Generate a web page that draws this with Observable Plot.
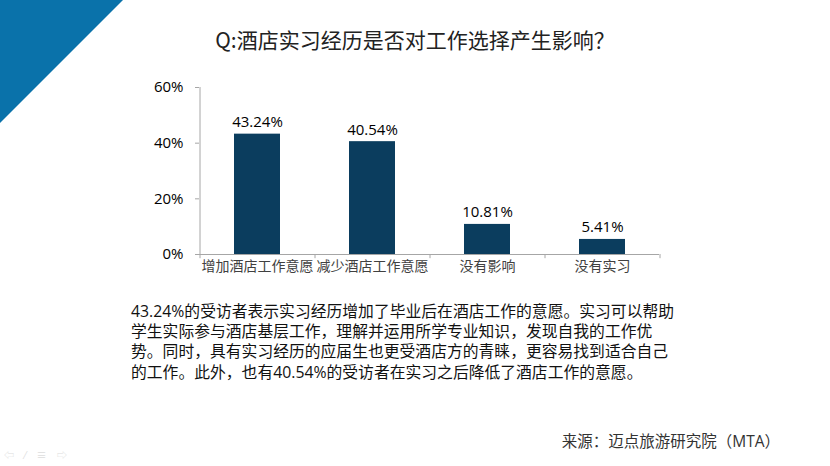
<!DOCTYPE html>
<html>
<head>
<meta charset="utf-8">
<script src="https://cdn.jsdelivr.net/npm/d3@7"></script>
<script src="https://cdn.jsdelivr.net/npm/@observablehq/plot@0.6"></script>
<style>
  html, body { margin: 0; padding: 0; background: #fff; }
  body { width: 830px; height: 466px; position: relative; overflow: hidden;
         font-family: "Open Sans", "Noto Sans CJK SC", sans-serif; }
  #tri { position: absolute; left: 0; top: 0; width: 123px; height: 123px;
         background: #0a72aa; clip-path: polygon(0 0, 100% 0, 0 100%); }
  #title { position: absolute; left: 0; width: 830px; top: 24px; text-align: center;
           font-size: 21px; color: #222; font-family: "Noto Sans CJK SC", sans-serif; }
  #chart { position: absolute; left: 0; top: 70px; }
  #para { position: absolute; left: 131px; top: 301px; font-size: 15.8px; line-height: 20.2px; color: #111; white-space: nowrap; }
  #src { position: absolute; right: 50px; top: 429px; font-size: 15.5px; color: #333; }
  #nav { position: absolute; left: 4px; top: 447px; font-size: 10px; color: #ddd; letter-spacing: 4px; }
</style>
</head>
<body>
<div id="tri"></div>
<div id="title"></div>
<div id="chart"></div>
<div id="para"></div>
<div id="src"></div>
<div id="nav">⇦ ⁄ ≡ ⇨</div>
<script>
const categories = ["增加酒店工作意愿", "减少酒店工作意愿", "没有影响", "没有实习"];
const values = [43.24, 40.54, 10.81, 5.41];
const yTicks = [0, 20, 40, 60];
const titleText = "Q:酒店实习经历是否对工作选择产生影响？";
const paragraphLines = [
  "43.24%的受访者表示实习经历增加了毕业后在酒店工作的意愿。实习可以帮助",
  "学生实际参与酒店基层工作，理解并运用所学专业知识，发现自我的工作优",
  "势。同时，具有实习经历的应届生也更受酒店方的青睐，更容易找到适合自己",
  "的工作。此外，也有40.54%的受访者在实习之后降低了酒店工作的意愿。"
];
const sourceText = "来源：迈点旅游研究院（MTA）";

document.getElementById("title").textContent = titleText;
document.getElementById("para").innerHTML = paragraphLines.join("<br>");
document.getElementById("src").textContent = sourceText;

const data = categories.map((c, i) => ({category: c, value: values[i]}));
const W = 830, ML = 199, MR = 171;
const bw = (W - ML - MR) / categories.length;
const axisColor = "#a6a6a6";

const chart = Plot.plot({
  width: W,
  height: 230,
  marginLeft: ML,
  marginRight: MR,
  marginTop: 17,
  marginBottom: 46,
  style: {fontFamily: '"Open Sans", "Noto Sans CJK SC", sans-serif', fontSize: "14px", color: "#000", background: "transparent"},
  x: {domain: categories, paddingInner: 0.6, paddingOuter: 0.3, label: null},
  y: {domain: [0, 60], label: null},
  marks: [
    Plot.barY(data, {x: "category", y: "value", fill: "#0b3d5e"}),
    Plot.ruleY([0], {stroke: axisColor}),
    Plot.ruleX([categories[0]], {dx: -bw / 2, y1: 0, y2: 60, stroke: axisColor}),
    Plot.ruleX(categories, {dx: -bw / 2, y1: 0, y2: -1.5, stroke: axisColor}),
    Plot.ruleX([categories[categories.length - 1]], {dx: bw / 2, y1: 0, y2: -1.5, stroke: axisColor}),
    Plot.axisY({ticks: yTicks, tickFormat: d => d + "%", tickSize: 4, tickPadding: 12, stroke: axisColor, fill: "#000", fontSize: 15}),
    Plot.axisX({tickSize: 0, tickPadding: 7, fill: "#404040", fontSize: 14}),
    Plot.text(data, {x: "category", y: "value", text: d => d.value.toFixed(2) + "%", lineAnchor: "bottom", dy: -7, fontSize: 15, fill: "#000"})
  ]
});
document.getElementById("chart").appendChild(chart);
</script>
</body>
</html>
